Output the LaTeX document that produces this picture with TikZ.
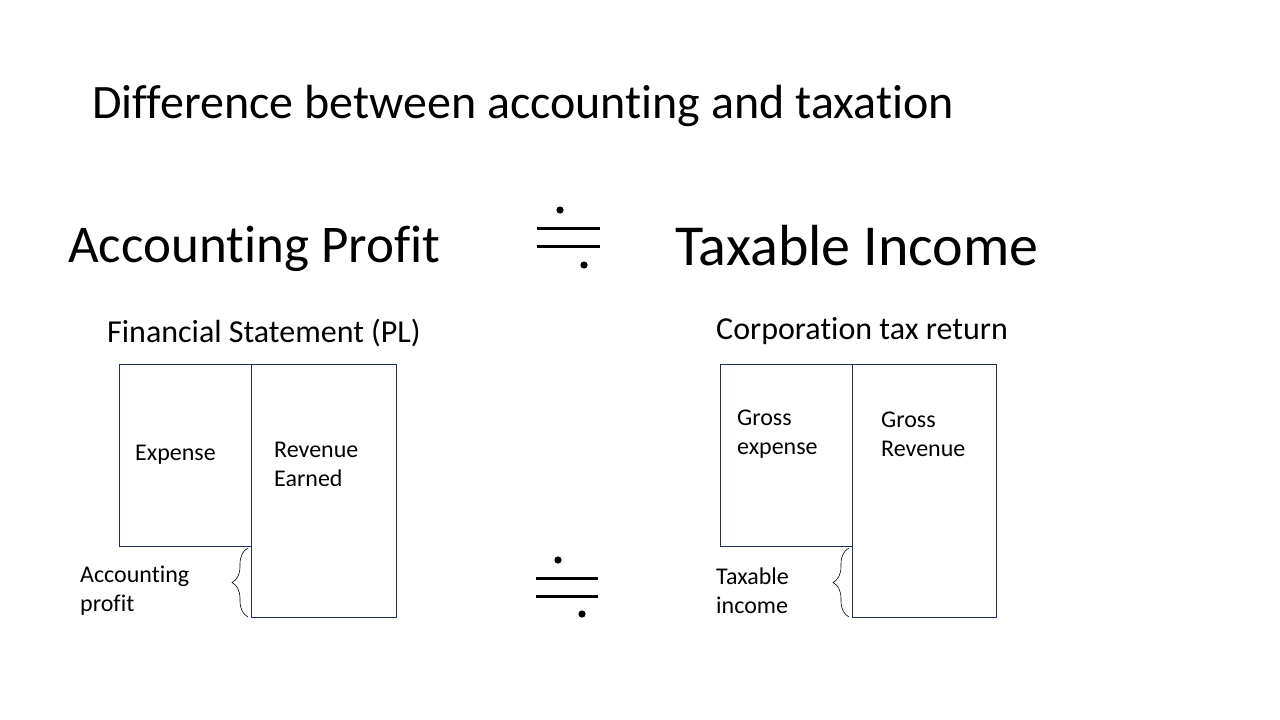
\documentclass[tikz,border=0pt]{standalone}
\usepackage{fontspec}
\setmainfont{Carlito}[Ligatures={NoCommon}]
\usetikzlibrary{decorations.pathreplacing}
\definecolor{boxline}{HTML}{1F2F5A}
\tikzset{
  lbl/.style={anchor=west,inner sep=0pt,font=\fontsize{24}{29}\selectfont,align=left},
  sect/.style={anchor=west,inner sep=0pt,font=\fontsize{32}{36}\selectfont},
  big/.style={anchor=west,inner sep=0pt},
  br/.style={decorate,decoration={brace,amplitude=16pt,mirror},line width=0.6pt},
  eqline/.style={line width=3pt},
}
\begin{document}
\begin{tikzpicture}[x=1pt,y=-1pt]
\useasboundingbox (0,0) rectangle (1280,720);
\node[anchor=west,inner sep=0pt,font=\fontsize{48}{56}\selectfont] (title) at (92,106) {Difference between accounting and taxation};
\node[big,font=\fontsize{53}{60}\selectfont] (ap) at (68,249) {Accounting Profit};
\node[big,font=\fontsize{58}{64}\selectfont] (ti) at (675,246) {Taxable Income};
% approx symbols
\draw[eqline] (537,228) -- (600,228) (537,246) -- (600,246);
\fill (560,210) circle (3.6) (584,265) circle (3.6);
\draw[eqline] (536,578) -- (598,578) (536,596) -- (598,596);
\fill (558,560) circle (3.6) (582,614) circle (3.6);
% left
\node[sect] (fs) at (107,333) {Financial Statement (PL)};
\draw[boxline,line width=0.9pt] (119,364) rectangle (251,546);
\draw[boxline,line width=0.9pt] (251,364) rectangle (396,617);
\node[lbl] (ex) at (135,455) {Expense};
\node[lbl] (re) at (274,464) {Revenue\\Earned};
\coordinate (lb1) at (248,548);
\coordinate (lb2) at (248,617);
\draw[br] (lb1) -- (lb2);
\node[lbl] (apl) at (80,591) {Accounting\\profit};
% right
\node[sect] (ct) at (716,331) {Corporation tax return};
\draw[boxline,line width=0.9pt] (720,364) rectangle (852,546);
\draw[boxline,line width=0.9pt] (852,364) rectangle (996,617);
\node[lbl] (ge) at (737,434) {Gross\\expense};
\node[lbl] (gr) at (881,434) {Gross\\Revenue};
\coordinate (rb1) at (849,548);
\coordinate (rb2) at (849,617);
\draw[br] (rb1) -- (rb2);
\node[lbl] (tin) at (716,591) {Taxable\\income};
\end{tikzpicture}
\end{document}
